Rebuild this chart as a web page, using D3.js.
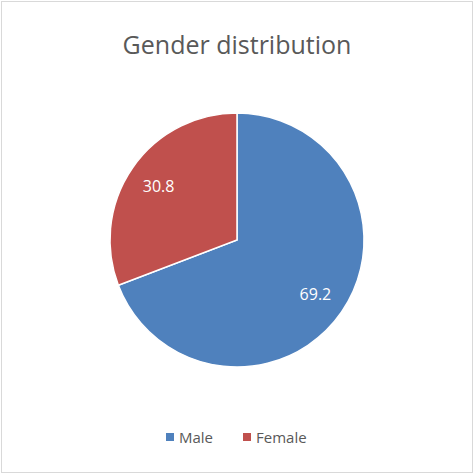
<!DOCTYPE html>
<html><head><meta charset="utf-8">
<script src="https://cdn.jsdelivr.net/npm/d3@7"></script>
<style>body{margin:0;background:#fff}</style></head>
<body><svg id="c" width="474" height="474"></svg>
<script>
const categories = ["Male", "Female"];
const values = [69.2, 30.8];
const colors = ["#4F81BD", "#C0504D"];
const title = "Gender distribution";

const svg = d3.select("#c");
svg.append("rect").attr("x",1.5).attr("y",1.5).attr("width",471).attr("height",471)
  .attr("fill","#fff").attr("stroke","#d9d9d9");
svg.append("text").attr("x",237).attr("y",54).attr("text-anchor","middle")
  .attr("font-family","Open Sans, Calibri, sans-serif").attr("font-size",25).attr("fill","#595959").text(title);

const cx=237, cy=240, r=127;
const pie = d3.pie().sort(null).value(d=>d)(values);
const arc = d3.arc().innerRadius(0).outerRadius(r);
const g = svg.append("g").attr("transform",`translate(${cx},${cy})`);
g.selectAll("path").data(pie).join("path").attr("d",arc)
  .attr("fill",(d,i)=>colors[i]).attr("stroke","#fff").attr("stroke-width",1.5);
const la = d3.arc().innerRadius(r*0.75).outerRadius(r*0.75);
g.selectAll("text").data(pie).join("text")
  .attr("transform",d=>`translate(${la.centroid(d)})`)
  .attr("text-anchor","middle").attr("dy","0.35em")
  .attr("font-family","Open Sans, Calibri, sans-serif").attr("font-size",16).attr("fill","#fff")
  .text(d=>d.data.toFixed(1));

const leg = svg.append("g").attr("font-family","Open Sans, Calibri, sans-serif").attr("font-size",15).attr("fill","#595959");
const lx=[166,243];
categories.forEach((c,i)=>{
  leg.append("rect").attr("x",lx[i]).attr("y",433).attr("width",8).attr("height",8).attr("fill",colors[i]);
  leg.append("text").attr("x",lx[i]+13).attr("y",443).text(c);
});
</script></body></html>
